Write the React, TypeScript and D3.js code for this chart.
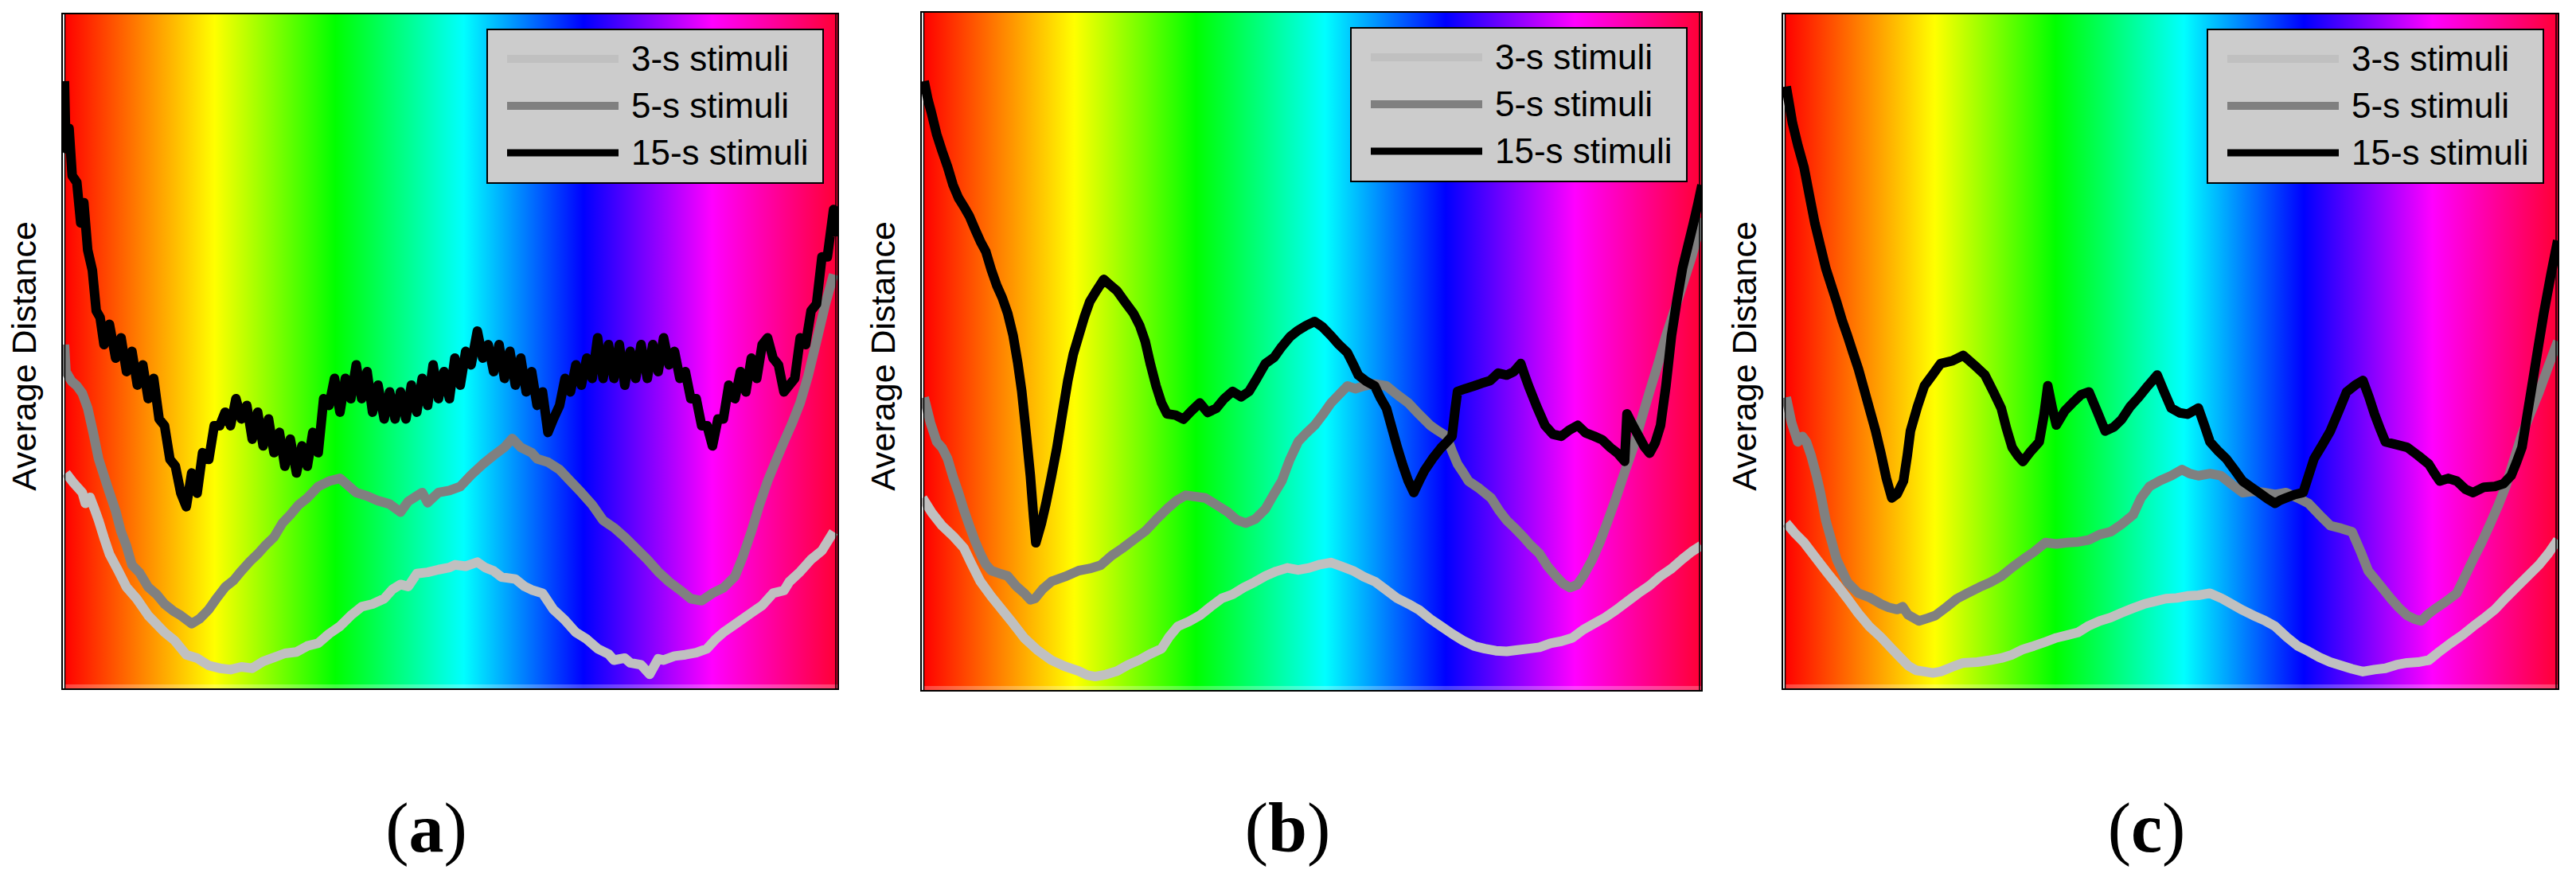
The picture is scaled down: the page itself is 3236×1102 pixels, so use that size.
import { hsl, line, scaleLinear } from "d3";

// spectrum position (0-100) -> average distance (0-100, relative)
type Pt = [number, number];

const seriesNames = ["3-s stimuli", "5-s stimuli", "15-s stimuli"];
const seriesColors = ["#c0c0c0", "#808080", "#000000"];
const panelLabels = ["a", "b", "c"];
const axisLabel = "Average Distance";

// hue along the spectrum background
const hueStops: Pt[] = [
  [0, 0], [19.4, 60], [35, 120], [51.6, 180], [67.1, 240], [83.7, 300], [100, 348]
];

const lightA: Pt[] = [
  [0.5, 32], [1.5, 30.5], [2.6, 29.1], [3.0, 27.5], [3.6, 28.4], [4.2, 26.6], [4.7, 25],
  [5.4, 22.4], [6.1, 20], [7.2, 17.6], [8.3, 15.1], [9.6, 13.4], [11.1, 10.9], [12.2, 9.6],
  [13.2, 8.4], [14.5, 7.2], [16.0, 5.1], [17.4, 4.6], [18.9, 3.5], [20.3, 3.1], [21.7, 2.9],
  [23.1, 3.3], [24.5, 3.1], [25.9, 4.1], [27.3, 4.7], [28.7, 5.3], [30.2, 5.5], [31.6, 6.4],
  [33.0, 6.8], [34.4, 8.2], [35.8, 9.3], [37.2, 10.9], [38.6, 12.2], [40.0, 12.6],
  [41.5, 13.4], [42.6, 14.8], [43.6, 15.5], [44.6, 15.2], [45.7, 17.1], [47.1, 17.3],
  [48.5, 17.7], [49.9, 18.0], [50.6, 18.4], [52.0, 18.2], [53.5, 18.8], [54.5, 18.0],
  [55.6, 17.5], [56.6, 16.6], [58.4, 16.3], [59.6, 15.2], [60.5, 14.7], [61.9, 14.2],
  [63.3, 11.8], [64.8, 10.2], [66.2, 8.4], [67.6, 7.4], [69.0, 6.0], [70.4, 5.2],
  [71.1, 4.3], [72.5, 4.6], [73.2, 3.9], [74.6, 3.6], [75.7, 2.2], [76.8, 4.5],
  [77.5, 4.3], [78.9, 4.9], [80.3, 5.1], [81.7, 5.4], [83.1, 6.0], [84.2, 7.4],
  [85.2, 8.4], [86.7, 9.6], [88.8, 11.3], [90.2, 12.4], [91.6, 14.2], [93.0, 14.6],
  [93.7, 15.9], [95.1, 17.4], [96.5, 19.2], [97.9, 20.5], [99.4, 23.3]
];

const midA: Pt[] = [
  [0.3, 51], [0.5, 47], [1.2, 45.6], [1.9, 44.9], [2.6, 43.8], [3.3, 41.6], [4.0, 38],
  [4.7, 34.1], [5.4, 31.6], [6.1, 29.1], [6.9, 26.4], [7.6, 23.3], [8.3, 21.2], [9.0, 18.4],
  [10.0, 17.2], [11.1, 15.1], [12.2, 14.0], [13.2, 12.6], [14.3, 11.6], [15.3, 10.9],
  [16.7, 9.7], [17.7, 10.4], [18.9, 11.8], [20.0, 13.6], [21.0, 15.1], [22.1, 16.1],
  [23.1, 17.5], [24.2, 18.9], [25.2, 20.0], [26.3, 21.4], [27.3, 22.5], [28.4, 24.6],
  [29.4, 25.8], [30.5, 27.3], [31.6, 28.3], [33.0, 30.0], [34.4, 30.8], [35.8, 31.2],
  [36.8, 30.2], [37.9, 29.1], [39.3, 28.6], [40.7, 27.9], [42.2, 27.4], [43.6, 26.2],
  [44.6, 27.8], [45.7, 28.6], [46.4, 29.1], [47.1, 27.6], [48.5, 29.1], [49.9, 29.4],
  [51.3, 30.0], [52.7, 31.7], [54.2, 33.3], [55.6, 34.6], [57.0, 35.8], [58.0, 37.1],
  [59.1, 35.8], [60.5, 35.0], [61.2, 34.1], [62.6, 33.6], [64.1, 32.5], [65.5, 30.8],
  [66.9, 29.1], [68.3, 27.3], [69.7, 25.0], [71.1, 23.9], [72.5, 22.5], [73.9, 20.9],
  [75.4, 19.2], [76.8, 17.4], [78.2, 15.9], [79.6, 14.7], [81.0, 13.4], [82.4, 13.1],
  [83.8, 14.2], [85.2, 15.0], [86.7, 16.7], [87.7, 19.6], [88.8, 23.3], [89.8, 27.1],
  [90.9, 30.8], [91.9, 33.6], [93.0, 36.6], [94.0, 39.2], [95.1, 42.4], [96.1, 46.3],
  [97.2, 51.5], [98.3, 56.8], [99.4, 61.4]
];

const blackA: Pt[] = [
  [0.3, 90], [0.5, 80], [0.9, 83], [1.3, 76], [1.9, 75], [2.4, 69], [2.8, 72], [3.3, 65],
  [3.9, 62], [4.4, 56], [4.9, 55], [5.4, 51], [6.1, 54], [6.9, 49], [7.6, 52], [8.3, 47],
  [9.0, 50], [9.7, 45], [10.4, 48], [11.1, 43], [11.8, 46], [12.5, 40], [13.2, 39],
  [13.9, 34], [14.6, 33], [15.3, 29], [16.0, 27], [16.7, 32], [17.4, 29], [18.1, 35],
  [18.9, 34], [19.6, 39], [20.3, 39], [21.0, 41], [21.7, 39], [22.4, 43], [23.1, 40],
  [23.8, 42], [24.5, 37], [25.2, 41], [25.9, 36], [26.6, 40], [27.3, 35], [28.0, 38],
  [28.7, 33], [29.4, 37], [30.2, 32], [30.9, 36], [31.6, 33], [32.3, 38], [33.0, 35],
  [33.7, 43], [34.4, 42], [35.1, 46], [35.8, 41], [36.5, 46], [37.2, 43], [37.9, 48],
  [38.6, 43], [39.3, 47], [40.0, 41], [40.7, 45], [41.5, 40], [42.2, 44], [42.9, 40],
  [43.6, 44], [44.3, 40], [45.0, 45], [45.7, 41], [46.4, 46], [47.1, 42], [47.8, 48],
  [48.5, 43], [49.2, 47], [49.9, 43], [50.6, 49], [51.3, 45], [52.0, 50], [52.7, 48],
  [53.5, 53], [54.2, 49], [54.9, 51], [55.6, 47], [56.3, 51], [57.0, 46], [57.7, 50],
  [58.4, 45], [59.1, 49], [59.8, 44], [60.5, 47], [61.2, 42], [61.9, 44], [62.6, 38],
  [63.3, 40], [64.1, 42], [64.8, 46], [65.5, 44], [66.2, 48], [66.9, 45], [67.6, 49],
  [68.3, 46], [69.0, 52], [69.7, 46], [70.4, 51], [71.1, 46], [71.8, 51], [72.5, 45],
  [73.2, 50], [73.9, 46], [74.6, 51], [75.4, 46], [76.1, 51], [76.8, 47], [77.5, 52],
  [78.2, 48], [78.9, 50], [79.6, 46], [80.3, 47], [81.0, 43], [81.7, 43], [82.4, 39],
  [83.1, 39], [83.8, 36], [84.5, 40], [85.2, 40], [85.9, 45], [86.7, 43], [87.4, 47],
  [88.1, 44], [88.8, 49], [89.5, 46], [90.2, 51], [90.9, 52], [91.6, 49], [92.3, 48],
  [93.0, 44], [93.7, 45], [94.4, 46], [95.1, 52], [95.8, 51], [96.5, 56], [97.2, 57],
  [97.9, 64], [98.6, 64], [99.4, 71], [99.8, 67]
];

const lightB: Pt[] = [
  [0.2, 28.4], [1.4, 26.2], [2.7, 24.3], [4.1, 22.8], [5.5, 21.0], [6.5, 18.6], [7.6, 16.1],
  [9.0, 13.9], [10.4, 11.9], [11.8, 9.9], [13.2, 7.8], [14.9, 6.0], [16.7, 4.5],
  [18.4, 3.6], [20.2, 2.9], [21.3, 2.3], [22.3, 2.1], [23.7, 2.4], [25.1, 2.9],
  [26.5, 3.8], [27.9, 4.5], [29.3, 5.4], [30.8, 6.2], [31.8, 8.0], [32.9, 9.5],
  [34.3, 10.2], [35.7, 11.1], [37.1, 12.4], [38.5, 13.6], [39.9, 14.2], [41.3, 15.2],
  [42.7, 16.0], [44.1, 16.9], [45.5, 17.6], [46.9, 18.1], [48.3, 17.8], [49.7, 18.1],
  [51.1, 18.6], [52.5, 18.9], [53.9, 18.3], [55.3, 17.7], [56.7, 16.8], [58.1, 16.1],
  [59.5, 14.9], [61.0, 13.6], [62.4, 12.8], [63.8, 11.9], [65.2, 10.6], [66.6, 9.5],
  [68.0, 8.4], [69.4, 7.4], [70.8, 6.6], [72.2, 6.2], [73.6, 5.9], [75.0, 5.8],
  [76.4, 6.0], [77.8, 6.2], [79.2, 6.4], [80.6, 7.0], [82.0, 7.3], [83.4, 7.8],
  [84.8, 9.0], [86.2, 9.9], [87.6, 10.8], [89.0, 11.9], [90.5, 13.2], [91.9, 14.4],
  [93.3, 15.5], [94.7, 16.9], [96.1, 18.0], [97.5, 19.4], [98.7, 20.5], [99.9, 21.4]
];

const midB: Pt[] = [
  [0.4, 43.2], [1.2, 39.5], [2.0, 36.7], [2.7, 35.8], [3.4, 34.2], [4.1, 31.5], [4.8, 29.2],
  [5.5, 26.6], [6.2, 24.3], [6.9, 22.1], [7.6, 20.2], [8.3, 18.6], [9.0, 17.7],
  [10.0, 17.3], [11.1, 16.9], [12.2, 15.4], [13.2, 14.4], [14.0, 13.4], [14.6, 13.6],
  [15.6, 15.0], [16.7, 16.1], [18.4, 16.8], [20.2, 17.7], [21.6, 18.0], [23.0, 18.5],
  [24.4, 19.9], [25.8, 21.0], [27.3, 22.3], [28.7, 23.5], [30.1, 25.2], [31.5, 26.8],
  [32.7, 28.0], [33.9, 28.8], [35.1, 28.6], [36.4, 28.4], [37.8, 27.4], [39.2, 26.4],
  [40.4, 25.2], [41.6, 24.7], [42.8, 25.3], [44.1, 26.8], [45.1, 28.8], [46.2, 30.9],
  [47.2, 34.0], [48.3, 36.7], [49.3, 37.9], [50.4, 39.1], [51.4, 40.6], [52.5, 42.4],
  [53.5, 43.6], [54.6, 44.9], [55.6, 44.5], [56.7, 44.9], [58.1, 45.2], [59.6, 44.9],
  [61.0, 43.6], [62.4, 42.4], [63.8, 40.7], [65.2, 39.1], [66.2, 38.3], [67.3, 37.5],
  [68.0, 35.3], [68.7, 33.4], [69.4, 32.2], [70.1, 30.9], [71.5, 29.8], [73.0, 28.4],
  [74.0, 26.6], [75.0, 25.1], [76.0, 24.0], [77.1, 22.7], [78.1, 21.4], [79.2, 20.2],
  [80.2, 18.4], [81.3, 16.9], [82.2, 15.8], [83.1, 15.2], [84.0, 15.6], [84.8, 16.9],
  [85.9, 19.2], [86.9, 21.8], [88.0, 25.2], [89.0, 28.4], [90.1, 32.2], [91.2, 35.8],
  [92.2, 39.8], [93.3, 44.1], [94.4, 48.2], [95.4, 52.3], [96.5, 56.1], [97.5, 59.7],
  [98.7, 64.0], [100, 69.6]
];

const blackB: Pt[] = [
  [0.4, 89.8], [0.9, 87.0], [1.3, 85.3], [2.0, 82.0], [2.7, 79.5], [3.4, 77.2], [4.1, 74.5],
  [4.8, 72.6], [5.5, 71.3], [6.2, 69.9], [6.9, 68.0], [7.6, 66.2], [8.3, 64.7],
  [9.0, 62.0], [9.7, 59.7], [10.4, 57.9], [11.1, 55.6], [11.8, 52.3], [12.4, 48.2],
  [12.9, 44.1], [13.5, 37.5], [14.0, 31.7], [14.4, 25.8], [14.7, 21.8], [15.4, 24.6],
  [16.0, 27.6], [16.7, 31.6], [17.4, 35.8], [18.1, 40.8], [18.8, 45.7], [19.5, 49.6],
  [20.2, 52.3], [20.9, 55.0], [21.6, 57.3], [22.5, 59.0], [23.4, 60.6], [24.2, 59.8],
  [25.1, 58.9], [26.1, 57.3], [27.2, 55.6], [28.0, 53.8], [28.7, 51.5], [29.4, 48.0],
  [30.1, 44.9], [30.8, 42.4], [31.5, 40.8], [32.6, 40.6], [33.6, 40.0], [34.6, 41.2],
  [35.7, 42.4], [36.7, 41.0], [37.8, 41.6], [38.8, 43.0], [39.9, 44.1], [41.0, 43.3],
  [42.0, 44.1], [43.0, 46.0], [44.1, 48.2], [45.2, 49.1], [46.2, 50.7], [47.3, 52.2],
  [48.3, 53.1], [49.3, 53.8], [50.4, 54.4], [51.4, 53.6], [52.5, 52.3], [53.5, 51.0],
  [54.6, 49.8], [55.3, 48.2], [56.0, 46.5], [57.0, 45.6], [58.1, 44.9], [58.8, 43.2],
  [59.6, 41.6], [60.3, 38.7], [61.0, 35.8], [61.7, 33.2], [62.4, 30.9], [63.1, 29.2],
  [63.8, 30.9], [64.5, 32.5], [65.5, 34.2], [66.6, 35.8], [67.3, 36.6], [68.0, 37.5],
  [68.4, 41.5], [68.7, 44.1], [69.7, 44.5], [70.8, 44.9], [71.8, 45.3], [72.9, 45.7],
  [73.9, 46.8], [75.0, 46.5], [75.9, 47.0], [76.8, 48.2], [77.3, 46.5], [77.8, 44.9],
  [78.8, 42.0], [79.9, 39.1], [80.9, 37.8], [82.0, 37.5], [83.0, 38.4], [84.1, 39.1],
  [85.1, 38.0], [86.2, 37.5], [87.2, 37.0], [88.3, 35.8], [89.2, 35.0], [90.1, 33.8],
  [90.4, 40.8], [91.1, 39.2], [91.9, 37.5], [92.6, 36.0], [93.3, 35.0], [94.0, 36.5],
  [94.7, 39.1], [95.4, 45.0], [96.1, 52.3], [96.8, 57.5], [97.5, 62.2], [98.2, 65.5],
  [98.9, 68.8], [99.5, 71.8], [100, 74.5]
];

const lightC: Pt[] = [
  [0.5, 24.6], [1.6, 23.1], [2.8, 21.7], [4.2, 19.6], [5.6, 17.5], [7.0, 15.5], [8.4, 13.4],
  [9.8, 11.2], [11.2, 9.3], [12.7, 7.7], [14.1, 6.0], [15.1, 4.8], [16.2, 3.5],
  [17.2, 2.8], [18.3, 2.6], [19.4, 2.4], [20.4, 2.6], [21.9, 3.3], [23.3, 3.9],
  [25.1, 4.0], [26.8, 4.3], [28.2, 4.6], [29.6, 5.1], [31.0, 5.9], [32.4, 6.4],
  [33.9, 7.0], [35.3, 7.6], [36.7, 8.0], [38.1, 8.4], [39.5, 9.4], [40.9, 10.1],
  [42.3, 10.6], [43.7, 11.3], [45.2, 12.0], [46.6, 12.6], [48.0, 13.0], [49.4, 13.4],
  [50.8, 13.5], [52.2, 13.8], [53.6, 13.9], [55.1, 14.2], [56.5, 13.5], [57.9, 12.6],
  [59.3, 11.7], [60.7, 10.9], [62.1, 10.2], [63.5, 9.3], [65.0, 7.7], [66.4, 6.4],
  [67.8, 5.6], [69.2, 4.7], [70.6, 4.0], [72.0, 3.5], [73.4, 3.0], [74.8, 2.6],
  [76.3, 2.9], [77.7, 3.1], [79.1, 3.6], [80.5, 3.9], [81.9, 4.0], [83.3, 4.3],
  [84.7, 5.6], [86.1, 6.8], [87.6, 8.0], [89.0, 9.3], [90.4, 10.5], [91.8, 11.8],
  [93.2, 13.5], [94.6, 15.1], [96.0, 16.7], [97.5, 18.4], [98.7, 20.1], [99.9, 22.1]
];

const midC: Pt[] = [
  [0.5, 43.2], [1.2, 39.4], [2.0, 36.6], [2.6, 37.4], [3.1, 36.6], [3.7, 34.6], [4.4, 31.6],
  [4.9, 29.1], [5.6, 25.0], [6.3, 22.1], [7.0, 19.2], [7.7, 17.5], [8.4, 15.8],
  [9.8, 14.2], [11.2, 13.6], [12.7, 12.6], [13.7, 12.1], [14.8, 11.8], [15.5, 12.2],
  [16.2, 11.0], [17.6, 10.1], [18.7, 10.5], [19.7, 10.9], [21.1, 12.1], [22.5, 13.4],
  [24.0, 14.3], [25.4, 15.1], [26.8, 15.8], [28.2, 16.7], [29.6, 18.0], [31.0, 19.2],
  [32.4, 20.3], [33.9, 21.7], [35.3, 21.5], [36.7, 21.7], [38.1, 21.8], [39.5, 22.1],
  [40.9, 22.9], [42.3, 23.3], [43.7, 24.4], [45.2, 25.8], [46.2, 28.3], [47.3, 30.0],
  [48.7, 30.9], [50.1, 31.6], [51.5, 32.5], [52.5, 31.9], [53.6, 31.6], [55.1, 31.9],
  [56.5, 31.6], [57.9, 30.3], [59.3, 29.1], [60.7, 29.3], [62.1, 29.1], [63.5, 28.8],
  [64.9, 29.1], [66.4, 28.3], [67.8, 27.5], [69.2, 25.8], [70.6, 24.2], [72.0, 23.8],
  [73.4, 23.3], [74.5, 20.4], [75.5, 17.5], [77.0, 15.4], [78.4, 13.4], [79.4, 12.1],
  [80.5, 10.9], [81.4, 10.4], [82.3, 10.1], [83.1, 11.0], [84.0, 11.8], [85.4, 12.9],
  [86.9, 14.2], [88.0, 16.8], [89.0, 19.2], [90.1, 21.7], [91.1, 24.2], [92.2, 27.1],
  [93.2, 30.0], [94.2, 33.7], [95.2, 37.4], [96.3, 40.6], [97.5, 44.0], [98.7, 47.8],
  [99.9, 51.5]
];

const blackC: Pt[] = [
  [0.5, 89.2], [0.9, 86.5], [1.3, 83.8], [2.0, 80.5], [2.8, 77.2], [3.5, 73.0], [4.2, 68.9],
  [4.9, 65.6], [5.6, 62.3], [6.3, 59.8], [7.0, 57.3], [7.7, 54.6], [8.4, 52.3],
  [9.1, 49.8], [9.8, 47.4], [10.5, 44.5], [11.2, 41.6], [12.0, 38.3], [12.7, 34.9],
  [13.4, 31.2], [14.1, 28.3], [14.8, 28.9], [15.6, 30.8], [16.1, 34.6], [16.5, 38.2],
  [17.4, 41.8], [18.3, 44.9], [19.4, 46.6], [20.4, 48.2], [21.9, 48.6], [23.3, 49.4],
  [24.7, 48.0], [26.1, 46.5], [27.2, 44.0], [28.2, 41.6], [28.9, 38.5], [29.6, 35.8],
  [30.3, 34.6], [31.0, 33.7], [32.0, 35.2], [33.1, 36.6], [33.7, 40.5], [34.2, 44.9],
  [34.8, 41.5], [35.3, 39.1], [36.4, 41.2], [37.4, 42.4], [38.5, 43.6], [39.5, 44.0],
  [40.6, 41.0], [41.6, 38.2], [42.7, 38.8], [43.7, 39.9], [44.8, 41.8], [45.9, 43.2],
  [47.1, 44.9], [48.3, 46.5], [49.2, 44.0], [50.1, 41.6], [51.2, 40.9], [52.2, 40.7],
  [53.6, 41.6], [54.4, 39.0], [55.1, 36.6], [56.2, 35.2], [57.2, 34.1], [58.3, 32.4],
  [59.3, 30.8], [60.4, 29.9], [61.4, 29.1], [62.5, 28.2], [63.5, 27.5], [64.2, 28.0],
  [64.9, 28.3], [66.0, 28.8], [67.1, 29.1], [67.8, 31.6], [68.5, 34.1], [69.6, 36.2],
  [70.6, 38.2], [71.7, 41.2], [72.7, 44.0], [73.8, 45.0], [74.8, 45.7], [75.6, 43.2],
  [76.3, 40.7], [77.0, 38.6], [77.7, 36.6], [79.1, 36.2], [80.5, 35.8], [81.9, 34.6],
  [83.3, 33.3], [84.0, 32.0], [84.7, 30.8], [85.8, 31.2], [86.9, 30.8], [88.0, 29.6],
  [89.0, 29.1], [90.4, 29.9], [91.8, 30.0], [92.9, 30.4], [93.9, 31.6], [94.6, 33.6],
  [95.3, 35.8], [96.0, 40.8], [96.7, 45.7], [97.4, 50.7], [98.1, 55.6], [99.0, 61.2],
  [99.9, 66.4]
];

const panelSeries: Pt[][][] = [
  [lightA, midA, blackA],
  [lightB, midB, blackB],
  [lightC, midC, blackC]
];

const frames = [
  { left: 78, top: 17, right: 1053, bottom: 866 },
  { left: 1157, top: 15, right: 2138, bottom: 868 },
  { left: 2239, top: 17, right: 3214, bottom: 866 }
];

const width = 3236;
const height = 1102;
const sansFont = "'Liberation Sans', Arial, sans-serif";
const serifFont = "'Liberation Serif', 'Times New Roman', serif";

export default function App(): React.JSX.Element {
  return (
    <svg
      width={width}
      height={height}
      viewBox={`0 0 ${width} ${height}`}
      style={{ position: "absolute", left: 0, top: 0, background: "#fff" }}
    >
      <defs>
        <linearGradient id="spectrum" x1="0" x2="1" y1="0" y2="0">
          {hueStops.map(([pos, hue]) => (
            <stop key={pos} offset={`${pos}%`} stopColor={hsl(hue, 1, 0.5).formatHex()} />
          ))}
        </linearGradient>
        {frames.map((f, i) => (
          <clipPath id={`clip-${i}`} key={i}>
            <rect x={f.left + 1} y={f.top + 1} width={f.right - f.left - 2} height={f.bottom - f.top - 2} />
          </clipPath>
        ))}
      </defs>
      {frames.map((f, i) => (
        <Panel key={i} frame={f} index={i} series={panelSeries[i]} label={panelLabels[i]} />
      ))}
    </svg>
  );
}

function Panel({
  frame,
  index,
  series,
  label
}: {
  readonly frame: { left: number; top: number; right: number; bottom: number };
  readonly index: number;
  readonly series: Pt[][];
  readonly label: string;
}): React.JSX.Element {
  const x = scaleLinear().domain([0, 100]).range([frame.left, frame.right]);
  const y = scaleLinear().domain([0, 100]).range([frame.bottom, frame.top]);
  const path = line<Pt>()
    .x((d) => x(d[0]))
    .y((d) => y(d[1]));
  const w = frame.right - frame.left;
  const h = frame.bottom - frame.top;
  const legendX = frame.right - 19 - 422;
  const legendY = frame.top + 20;
  const centerX = (frame.left + frame.right) / 2;
  const centerY = (frame.top + frame.bottom) / 2;

  return (
    <g>
      <rect x={frame.left + 3} y={frame.top} width={w - 3} height={h} fill="url(#spectrum)" />
      <rect x={frame.left + 3} y={frame.bottom - 6} width={w - 3} height={6} fill="#fff" opacity={0.25} />
      <rect x={frame.left} y={frame.top} width={3} height={h} fill="#fff" />
      <g clipPath={`url(#clip-${index})`}>
        {series.map((pts, s) => (
          <path
            key={s}
            d={path(pts) ?? ""}
            fill="none"
            stroke={seriesColors[s]}
            strokeWidth={12}
            strokeLinejoin="round"
            strokeLinecap="butt"
          />
        ))}
      </g>
      <rect x={frame.left} y={frame.top} width={w} height={h} fill="none" stroke="#000" strokeWidth={2} />
      <line x1={frame.left + 3.5} x2={frame.left + 3.5} y1={frame.top} y2={frame.bottom} stroke="#000" strokeWidth={1.5} />
      <line x1={frame.right - 3} x2={frame.right - 3} y1={frame.top} y2={frame.bottom} stroke="#000" strokeWidth={1.5} />

      <g transform={`translate(${legendX},${legendY})`}>
        <rect width={422} height={193} fill="#cccccc" stroke="#000" strokeWidth={2} />
        {seriesNames.map((name, s) => (
          <g key={name} transform={`translate(0,${37 + s * 59})`}>
            <line x1={25} x2={165} y1={0} y2={0} stroke={seriesColors[s]} strokeWidth={s === 2 ? 9 : 10} />
            <text x={181} y={15} fontFamily={sansFont} fontSize={44} fill="#000">
              {name}
            </text>
          </g>
        ))}
      </g>

      <text
        transform={`translate(${frame.left - 44},${centerY + 6}) rotate(-90)`}
        textAnchor="middle"
        dominantBaseline="middle"
        fontFamily={sansFont}
        fontSize={43}
        fill="#000"
      >
        {axisLabel}
      </text>

      <text x={centerX - 30} y={1070} textAnchor="middle" fontFamily={serifFont} fontSize={88} fill="#000">
        (<tspan fontWeight="bold">{label}</tspan>)
      </text>
    </g>
  );
}
